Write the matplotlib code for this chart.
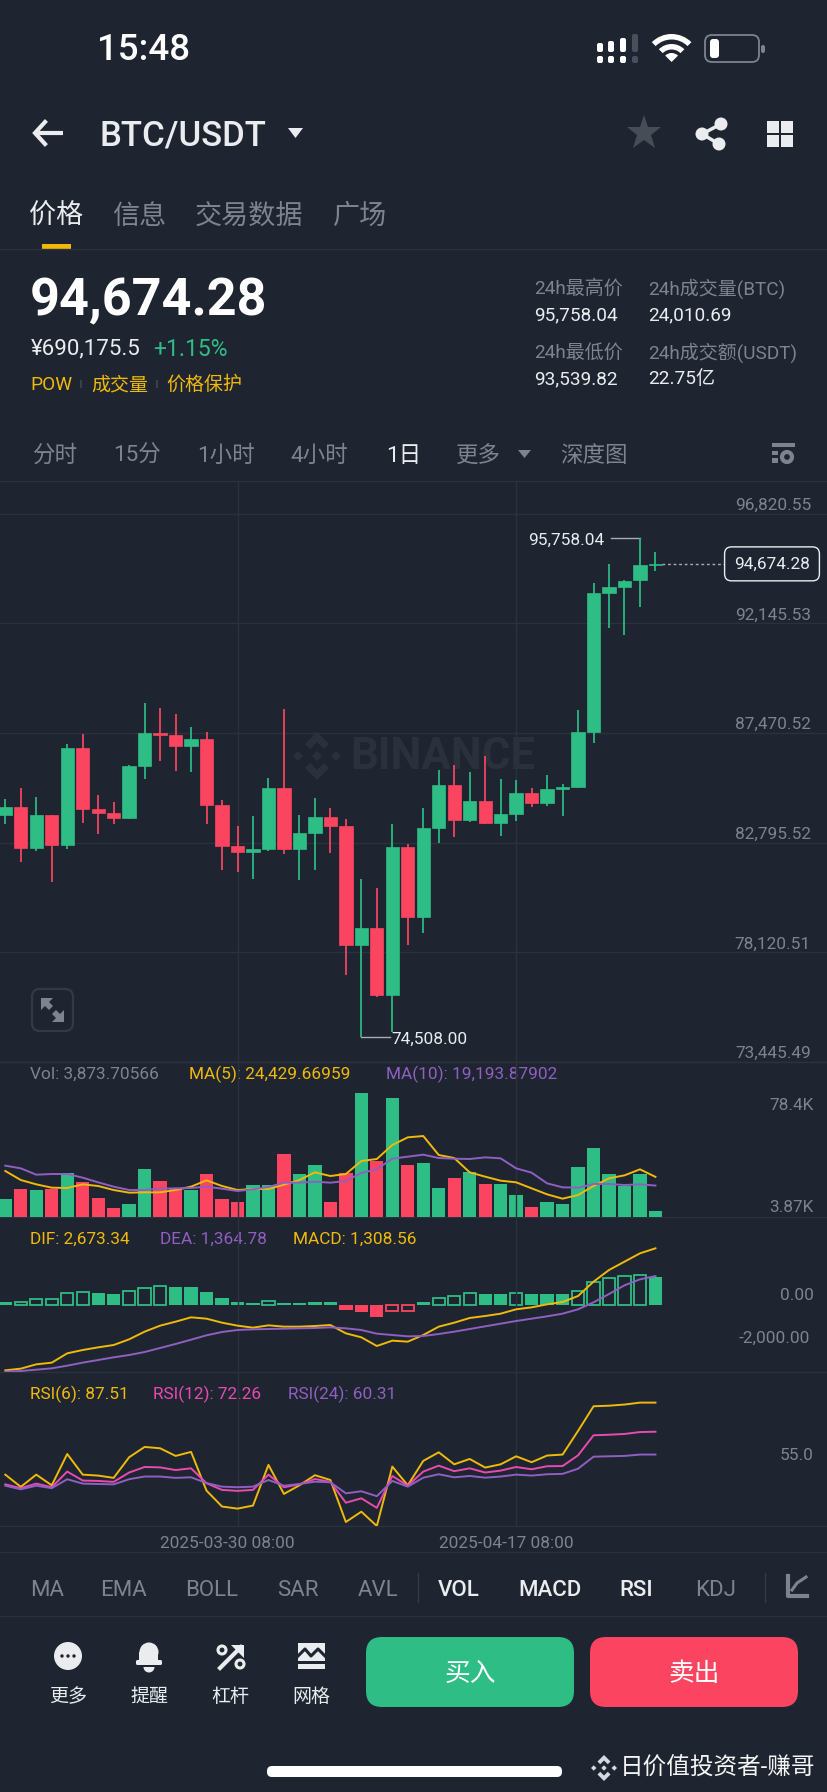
import matplotlib

matplotlib.use("Agg")
import matplotlib.pyplot as plt
import numpy as np
from matplotlib.patches import Circle, FancyBboxPatch, Polygon, Rectangle, Wedge

plt.rcParams["font.family"] = ["Roboto", "Noto Sans CJK SC", "DejaVu Sans"]

# candles
opens = [83984, 84311, 82564, 83984, 82706, 86826, 84212, 84070, 83828, 86073, 87479,
         87366, 86897, 87209, 84411, 82635, 82379, 82535, 85135, 82507, 83189, 83871,
         83516, 78430, 79140, 76313, 82592, 79609, 83417, 85263, 83743, 84567, 83630,
         84013, 84922, 84468, 85093, 85178, 87508, 93447, 93674, 93972, 94612]
highs = [84652, 85107, 84737, 83990, 86982, 87437, 84823, 84524, 86115, 88744, 88516,
         88261, 87735, 87494, 84595, 83516, 83928, 85561, 88488, 83970, 84695, 84254,
         83800, 81229, 80845, 83573, 82720, 84283, 85889, 86087, 85789, 86485, 85491,
         85448, 85107, 85661, 85292, 88446, 93873, 94668, 93987, 95758.04, 95166]
lows = [83601, 81967, 82450, 81129, 82535, 83643, 83160, 83601, 83800, 85505, 86286,
        85845, 85789, 83572, 81626, 81555, 81257, 82422, 82308, 81200, 81640, 82365,
        77137, 74508, 76228, 74736, 78444, 78955, 82791, 83019, 83658, 83587, 83090,
        83729, 84297, 84354, 83942, 85121, 87053, 91927, 91642, 92850, 94384]
closes = [84311, 82564, 83984, 82706, 86826, 84212, 84070, 83828, 86059, 87479, 87394,
          86897, 87209, 84411, 82649, 82393, 82535, 85135, 82507, 83189, 83871, 83516,
          78430, 79140, 76313, 82592, 79609, 83402, 85263, 83757, 84567, 83630, 84013,
          84922, 84468, 85064, 85178, 87494, 93418, 93674, 93958, 94612, 94674.28]
price_ticks = [96820.55, 92145.53, 87470.52, 82795.52, 78120.51, 73445.49]

# volume
volumes = [10900, 16924, 16523, 17125, 26964, 21141, 11503, 5479, 8290, 28972, 21744,
           17326, 16523, 25960, 11302, 9495, 19736, 19334, 38209, 26161, 31382, 9093,
           26764, 74755, 33792, 71944, 31784, 32988, 17728, 23752, 27366, 20137, 20137,
           13310, 6282, 9294, 7888, 30378, 42024, 26161, 18932, 26362, 3873.71]
vol_ma5 = [27968, 22547, 19936, 17928, 17728, 19936, 18932, 16523, 14916, 15117, 15117,
           16523, 18531, 22346, 18932, 16523, 17125, 17125, 19736, 22547, 27165, 24956,
           26161, 33992, 35197, 43631, 48249, 49052, 37607, 35800, 27165, 24555, 22145,
           21141, 17527, 13912, 11302, 13511, 18932, 23551, 25358, 28972, 24429.67]
vol_ma10 = [31181, 29575, 25760, 26161, 26161, 23952, 21141, 18531, 16523, 16523, 17326,
            17527, 17728, 18531, 17326, 15920, 16924, 18330, 20940, 20940, 21543, 20940,
            21944, 26764, 28972, 35398, 36603, 37808, 35800, 35398, 35197, 36201, 35599,
            29575, 26964, 20539, 18129, 17928, 20137, 20137, 19535, 19936, 19193.88]

# MACD
dif = [-3083, -3004, -2800, -2721, -2281, -2124, -1998, -1888, -1620, -1258, -975,
       -787, -582, -645, -834, -975, -1070, -960, -1022, -1022, -991, -944,
       -1337, -1526, -1935, -1683, -1730, -1416, -1022, -834, -613, -519, -409,
       -204, -110, 31, 142, 425, 1101, 1652, 2045, 2438, 2673.34]
dea = [-3146, -3115, -3052, -2989, -2863, -2721, -2595, -2470, -2360, -2218, -2029,
       -1840, -1636, -1431, -1274, -1180, -1148, -1133, -1117, -1101, -1085, -1054,
       -1101, -1180, -1353, -1416, -1479, -1463, -1369, -1258, -1133, -1007, -881,
       -755, -645, -535, -409, -204, 126, 519, 928, 1211, 1364.78]
macd_hist = [126, 157, 267, 283, 582, 598, 551, 535, 676, 818, 897,
             849, 834, 613, 346, 142, 94, 173, 79, 79, 142, 142,
             -220, -346, -566, -299, -283, 142, 346, 425, 551, 519, 519,
             582, 519, 519, 519, 661, 1070, 1274, 1368, 1400, 1308.56]
macd_hollow = [0, 1, 1, 1, 1, 1, 0, 0, 1, 1, 1,
               0, 0, 0, 0, 0, 0, 1, 0, 0, 0, 0,
               0, 0, 0, 1, 1, 0, 1, 1, 1, 0, 0,
               1, 0, 0, 0, 1, 1, 1, 1, 1, 0]

# RSI
rsi6 = [49.8, 43.4, 49.8, 44.2, 60.6, 49.8, 49.3, 48.1, 58.9, 64.3, 63.6,
        59.6, 61.7, 41.4, 33.1, 32.0, 33.6, 54.9, 39.7, 44.2, 49.5, 47.0,
        25.0, 30.4, 22.9, 54.0, 44.2, 57.0, 61.5, 55.2, 58.0, 53.5, 55.2,
        59.4, 56.3, 59.8, 60.3, 72.7, 85.6, 85.9, 86.5, 87.51, 87.51]
rsi12 = [44.7, 42.7, 45.1, 43.2, 51.4, 46.7, 46.5, 46.0, 50.9, 53.8, 53.6,
         52.2, 53.1, 45.3, 41.8, 41.3, 41.8, 49.8, 43.2, 44.7, 47.5, 46.0,
         35.1, 37.4, 32.4, 49.1, 44.0, 51.4, 54.5, 51.6, 53.1, 50.9, 51.9,
         53.8, 52.6, 54.2, 54.3, 59.9, 70.4, 70.7, 71.1, 72.1, 72.26]
rsi24 = [44.0, 42.1, 44.0, 42.7, 47.4, 45.1, 44.9, 44.7, 47.4, 48.8, 48.8,
         48.1, 48.4, 45.4, 43.5, 43.2, 43.5, 47.0, 44.0, 44.9, 46.1, 45.8,
         40.0, 41.1, 38.5, 46.5, 43.5, 48.2, 50.0, 48.4, 49.1, 48.2, 48.8,
         49.8, 49.3, 50.0, 50.2, 52.9, 59.2, 59.4, 59.6, 60.31, 60.31]

date_labels = ["2025-03-30 08:00", "2025-04-17 08:00"]
date_idx = [15, 33]

W, H = 828, 1792
BG = "#1e2530"
GRID = "#2b323d"
GREEN = "#2ebd85"
RED = "#fb4560"
YELLOW = "#f0b90b"
PURPLE = "#8f5fc1"
PINK = "#e84bb0"
GRAY = "#7d8490"
WHITE = "#eaecef"
NUM = 12.4

n = len(closes)
x = np.arange(n)
up = np.array(closes) >= np.array(opens)
bar_colors = [GREEN if u else RED for u in up]

fig = plt.figure(figsize=(W / 100, H / 100), dpi=100, facecolor=BG)

# page furniture, in pixels
chrome = fig.add_axes([0, 0, 1, 1], zorder=0)
chrome.set_xlim(0, W)
chrome.set_ylim(H, 0)
chrome.axis("off")


def label(px, py, s, size=13.7, color=WHITE, ha="left", weight="normal"):
    chrome.text(px, py, s, fontsize=size, color=color, ha=ha, va="center", fontweight=weight)


def rrect(x0, y0, x1, y1, r, **kw):
    chrome.add_patch(FancyBboxPatch((x0, y0), x1 - x0, y1 - y0,
                                    boxstyle=f"round,pad=0,rounding_size={r}", **kw))


def rect(x0, y0, x1, y1, color):
    chrome.add_patch(Rectangle((x0, y0), x1 - x0, y1 - y0, color=color, lw=0))


def poly(pts, color):
    chrome.add_patch(Polygon(pts, closed=True, color=color, lw=0))


def hline(py, x0=0, x1=W, color=GRID, lw=1.0):
    chrome.plot([x0, x1], [py, py], color=color, lw=lw)


def logo(cx, cy, s, color):
    chev = [(0, -1), (0.5, -0.5), (0.29, -0.29), (0, -0.58), (-0.29, -0.29), (-0.5, -0.5)]
    poly([(cx + a * s, cy + b * s) for a, b in chev], color)
    poly([(cx + a * s, cy - b * s) for a, b in chev], color)
    for dx in (-0.79, 0, 0.79):
        d = 0.21
        poly([(cx + (dx - d) * s, cy), (cx + dx * s, cy - d * s),
              (cx + (dx + d) * s, cy), (cx + dx * s, cy + d * s)], color)


# status bar
label(97, 51, "15:48", size=26.5, color="white", weight="medium")
for cx, top in zip([600, 611, 623, 635], [43, 41, 38, 34]):
    col = "#4a505b" if cx == 635 else "white"
    rrect(cx - 3, top, cx + 3, 52, 2, color=col, lw=0)
    rrect(cx - 3, 56, cx + 3, 63, 2, color=col, lw=0)
for r in (28, 18, 9):
    chrome.add_patch(Wedge((671.6, 62), r, 225, 315, width=5.5 if r > 9 else 9, color="white", lw=0))
rrect(705, 35, 759, 62, 7, fc="none", ec="#7d8490", lw=1.3)
rrect(710, 39, 719, 58, 3, color="white", lw=0)
rrect(761, 45, 765, 53, 2, color="#7d8490", lw=0)

# header
chrome.plot([36, 63], [133, 133], color=WHITE, lw=3, solid_capstyle="butt")
chrome.plot([45, 35, 45], [122, 133, 144], color=WHITE, lw=3, solid_joinstyle="miter")
label(100, 136, "BTC/USDT", size=25, color=WHITE, weight="medium")
poly([(288, 128), (303, 128), (295.5, 138)], WHITE)
chrome.plot([644], [133], marker="*", ms=26, color="#474d57", mew=0)
for a, b in (((721, 124), (702, 134)), ((702, 134), (719, 144))):
    chrome.plot([a[0], b[0]], [a[1], b[1]], color=WHITE, lw=2.5)
for c in ((721, 124), (702, 134), (719, 144)):
    chrome.add_patch(Circle(c, 6.5, color=WHITE, lw=0))
for qx, qy in ((767, 121), (781, 121), (767, 135), (781, 135)):
    rect(qx, qy, qx + 12, qy + 12, WHITE)

# tabs
for tab, tx, col in zip(["价格", "信息", "交易数据", "广场"], [29, 112, 195, 333],
                        [WHITE, GRAY, GRAY, GRAY]):
    label(tx, 216, tab, size=19.5, color=col)
rect(42, 244, 71, 249, YELLOW)
hline(249.5)

# price block
label(30, 301, "94,674.28", size=37.5, color="white", weight="bold")
label(31, 349, "¥690,175.5", size=16)
label(153, 349, "+1.15%", size=16.5, color=GREEN)
label(30, 385, "POW", size=13.7, color=YELLOW)
label(91, 385, "成交量", size=13.7, color=YELLOW)
label(166, 385, "价格保护", size=13.7, color=YELLOW)
rect(80.5, 380, 82, 388, "#3a404b")
rect(156.5, 380, 158, 388, "#3a404b")
label(534, 289, "24h最高价", color=GRAY)
label(648, 289, "24h成交量(BTC)", color=GRAY)
label(534, 315, "95,758.04")
label(648, 315, "24,010.69")
label(534, 353, "24h最低价", color=GRAY)
label(648, 353, "24h成交额(USDT)", color=GRAY)
label(534, 379, "93,539.82")
label(648, 379, "22.75亿")

# interval row
for s, tx, col in zip(["分时", "15分", "1小时", "4小时", "1日", "更多", "深度图"],
                      [32, 113, 197, 290, 386, 456, 560],
                      [GRAY, GRAY, GRAY, GRAY, WHITE, GRAY, GRAY]):
    label(tx, 456, s, size=16.2, color=col)
poly([(518, 450), (531, 450), (524.5, 458)], GRAY)
rect(772, 443, 795, 447, GRAY)
rect(772, 451, 778, 455, GRAY)
rect(772, 458, 778, 463, GRAY)
chrome.add_patch(Circle((787, 457), 5, fc="none", ec=GRAY, lw=3))
hline(481)

# watermark and expand button sit behind the chart
logo(317, 756, 24, "#2a313c")
chrome.text(350, 757, "BINANCE", fontsize=31.5, color="#2a313c", fontweight="bold", va="center")
rrect(32, 989, 73, 1031, 8, fc="none", ec="#333a45", lw=1.6)
poly([(41, 998), (53, 998), (49, 1002), (53, 1006), (49, 1010), (45, 1006), (41, 1010)], GRAY)
poly([(64, 1022), (52, 1022), (56, 1018), (52, 1014), (56, 1010), (60, 1014), (64, 1010)], GRAY)

# separators
for py in (1062, 1217, 1371.7, 1526, 1552, 1616):
    hline(py)

# legends
label(30, 1074, "Vol: 3,873.70566", size=NUM, color=GRAY)
label(189, 1074, "MA(5): 24,429.66959", size=NUM, color=YELLOW)
label(386, 1074, "MA(10): 19,193.87902", size=NUM, color=PURPLE)
label(30, 1239, "DIF: 2,673.34", size=NUM, color=YELLOW)
label(160, 1239, "DEA: 1,364.78", size=NUM, color=PURPLE)
label(293, 1239, "MACD: 1,308.56", size=NUM, color=YELLOW)
label(30, 1394, "RSI(6): 87.51", size=NUM, color=YELLOW)
label(153, 1394, "RSI(12): 72.26", size=NUM, color=PINK)
label(288, 1394, "RSI(24): 60.31", size=NUM, color=PURPLE)
label(814, 1106, "78.4K", size=NUM, color=GRAY, ha="right")
label(814, 1208, "3.87K", size=NUM, color=GRAY, ha="right")
label(814, 1296, "0.00", size=NUM, color=GRAY, ha="right")
label(810, 1338, "-2,000.00", size=NUM, color=GRAY, ha="right")
label(814, 1456, "55.0", size=NUM, color=GRAY, ha="right")

# indicator row
for s, tx, col, wt in zip(["MA", "EMA", "BOLL", "SAR", "AVL", "VOL", "MACD", "RSI", "KDJ"],
                          [30, 100, 185, 277, 358, 438, 518, 619, 695],
                          [GRAY] * 5 + [WHITE] * 3 + [GRAY],
                          ["normal"] * 5 + ["medium"] * 3 + ["normal"]):
    label(tx, 1590, s, size=16, color=col, weight=wt)
for sx in (418, 765):
    chrome.plot([sx, sx], [1573, 1602], color="#333a45", lw=1)
chrome.plot([788, 788, 807], [1576, 1596, 1596], color=GRAY, lw=3)
chrome.plot([792, 797, 806], [1590, 1583, 1577], color=GRAY, lw=2.2)

# bottom actions
for s, cx in zip(["更多", "提醒", "杠杆", "网格"], [68, 149, 230, 311.5]):
    label(cx, 1697, s, size=13.7, ha="center")
chrome.add_patch(Circle((68, 1656), 14, color=WHITE, lw=0))
for dx in (-6, 0, 6):
    chrome.add_patch(Circle((68 + dx, 1656), 1.7, color=BG, lw=0))
chrome.add_patch(Circle((149, 1652), 9.5, color=WHITE, lw=0))
rect(139.5, 1652, 158.5, 1662, WHITE)
rrect(136, 1660, 162, 1665, 1.5, color=WHITE, lw=0)
chrome.add_patch(Wedge((149, 1667), 5.5, 0, 180, color=WHITE, lw=0))
chrome.plot([220, 241], [1668, 1647], color=WHITE, lw=3)
poly([(231, 1645), (244, 1645), (244, 1658)], WHITE)
chrome.add_patch(Circle((222, 1650), 4, fc="none", ec=WHITE, lw=2.2))
chrome.add_patch(Circle((240, 1664), 4, fc="none", ec=WHITE, lw=2.2))
rect(298, 1643, 325, 1661, WHITE)
rect(298, 1664.5, 325, 1669.5, WHITE)
chrome.plot([298, 305, 311, 318, 325], [1656, 1649, 1656, 1649, 1656], color=BG, lw=2.2)
rrect(366, 1637, 574, 1707, 16, color=GREEN, lw=0)
rrect(590, 1637, 798, 1707, 16, color=RED, lw=0)
label(470, 1674, "买入", size=18.5, color="white", ha="center", weight="medium")
label(694, 1674, "卖出", size=18.5, color="white", ha="center", weight="medium")
rrect(267, 1766, 562, 1777, 5, color="white", lw=0)
logo(604, 1768, 13, "#d5d8dc")
label(620, 1768, "日价值投资者-赚哥", size=17, color="#f5f5f5")


def chart_axes(top, bottom, ylim):
    ax = fig.add_axes([0, 1 - bottom / H, 1, (bottom - top) / H], zorder=1)
    ax.patch.set_visible(False)
    ax.set_xlim(-5.3 / 15.48, (W - 5.3) / 15.48)
    ax.set_ylim(*ylim)
    ax.set_xticks(date_idx)
    ax.grid(axis="x", color=GRID, lw=1)
    ax.tick_params(length=0, labelbottom=False, labelleft=False)
    for sp in ax.spines.values():
        sp.set_visible(False)
    return ax


# price panel
per_px = (price_ticks[0] - price_ticks[-1]) / (1062 - 513.5)
ax_p = chart_axes(482, 1062, (price_ticks[-1], price_ticks[0] + (513.5 - 482) * per_px))
ax_p.set_yticks(price_ticks)
ax_p.grid(axis="y", color=GRID, lw=1)
ax_p.vlines(x, lows, highs, colors=bar_colors, lw=1.25, zorder=3)
ax_p.bar(x, np.abs(np.array(closes) - np.array(opens)), bottom=np.minimum(opens, closes),
         width=0.86, color=bar_colors, edgecolor=bar_colors, lw=0.5, zorder=3)
for tick in price_ticks:
    ax_p.annotate(f"{tick:,.2f}", (811 / W, tick), xycoords=("axes fraction", "data"),
                  xytext=(0, 0.5), textcoords="offset points", ha="right", va="bottom",
                  fontsize=NUM, color=GRAY)

# high / low / last markers
i_hi = int(np.argmax(highs))
i_lo = int(np.argmin(lows))
ax_p.plot([i_hi - 1.85, i_hi], [highs[i_hi]] * 2, color="#a8adb5", lw=1)
ax_p.annotate(f"{highs[i_hi]:,.2f}", (i_hi - 2.3, highs[i_hi]), xytext=(0, -1.5),
              textcoords="offset points", ha="right", va="center",
              fontsize=NUM, color=WHITE, zorder=4)
ax_p.plot([i_lo, i_lo + 1.85], [lows[i_lo]] * 2, color="#a8adb5", lw=1, zorder=2)
ax_p.annotate(f"{lows[i_lo]:,.2f}", (i_lo + 1.95, lows[i_lo]), xytext=(0, -1.5),
              textcoords="offset points", ha="left", va="center",
              fontsize=NUM, color=WHITE, zorder=4)
ax_p.plot([n - 1 + 0.45, (725 - 5.3) / 15.48], [closes[-1]] * 2, color="#a8adb5", lw=1, ls=(0, (2, 2)))
ax_p.annotate(f"{closes[-1]:,.2f}", (772 / W, closes[-1]), xycoords=("axes fraction", "data"),
              ha="center", va="center", fontsize=NUM, color=WHITE,
              bbox=dict(boxstyle="round,pad=0.55,rounding_size=0.4", fc=BG, ec=WHITE, lw=1))

# volume panel
vol_min = 258
ax_v = chart_axes(1062, 1217, (vol_min, vol_min + 155 * 602.5))
ax_v.bar(x, np.array(volumes) - vol_min, bottom=vol_min, width=0.86, color=bar_colors, lw=0)
ax_v.plot(x, vol_ma5, color=YELLOW, lw=1.4)
ax_v.plot(x, vol_ma10, color=PURPLE, lw=1.4)

# MACD panel
macd_px = 47.19
ax_m = chart_axes(1217, 1371.7, (-(1371.7 - 1305) * macd_px, (1305 - 1217) * macd_px))
for i, (val, hollow) in enumerate(zip(macd_hist, macd_hollow)):
    col = GREEN if val >= 0 else RED
    if hollow:
        ax_m.bar(i, val, width=0.8, fc="none", ec=col, lw=1.3)
    else:
        ax_m.bar(i, val, width=0.86, color=col, lw=0)
ax_m.plot(x, dif, color=YELLOW, lw=1.4)
ax_m.plot(x, dea, color=PURPLE, lw=1.4)

# RSI panel
ax_r = chart_axes(1371.7, 1526, (22.9, 103.7))
ax_r.plot(x, rsi6, color=YELLOW, lw=1.4)
ax_r.plot(x, rsi12, color=PINK, lw=1.4)
ax_r.plot(x, rsi24, color=PURPLE, lw=1.4)
for idx, s in zip(date_idx, date_labels):
    ax_r.annotate(s, (idx - 0.65, 0), xycoords=("data", "axes fraction"), xytext=(0, -12.5),
                  textcoords="offset points", ha="center", va="center", fontsize=NUM,
                  color=GRAY, annotation_clip=False)

fig.savefig("out.png", dpi=100, facecolor=BG)
